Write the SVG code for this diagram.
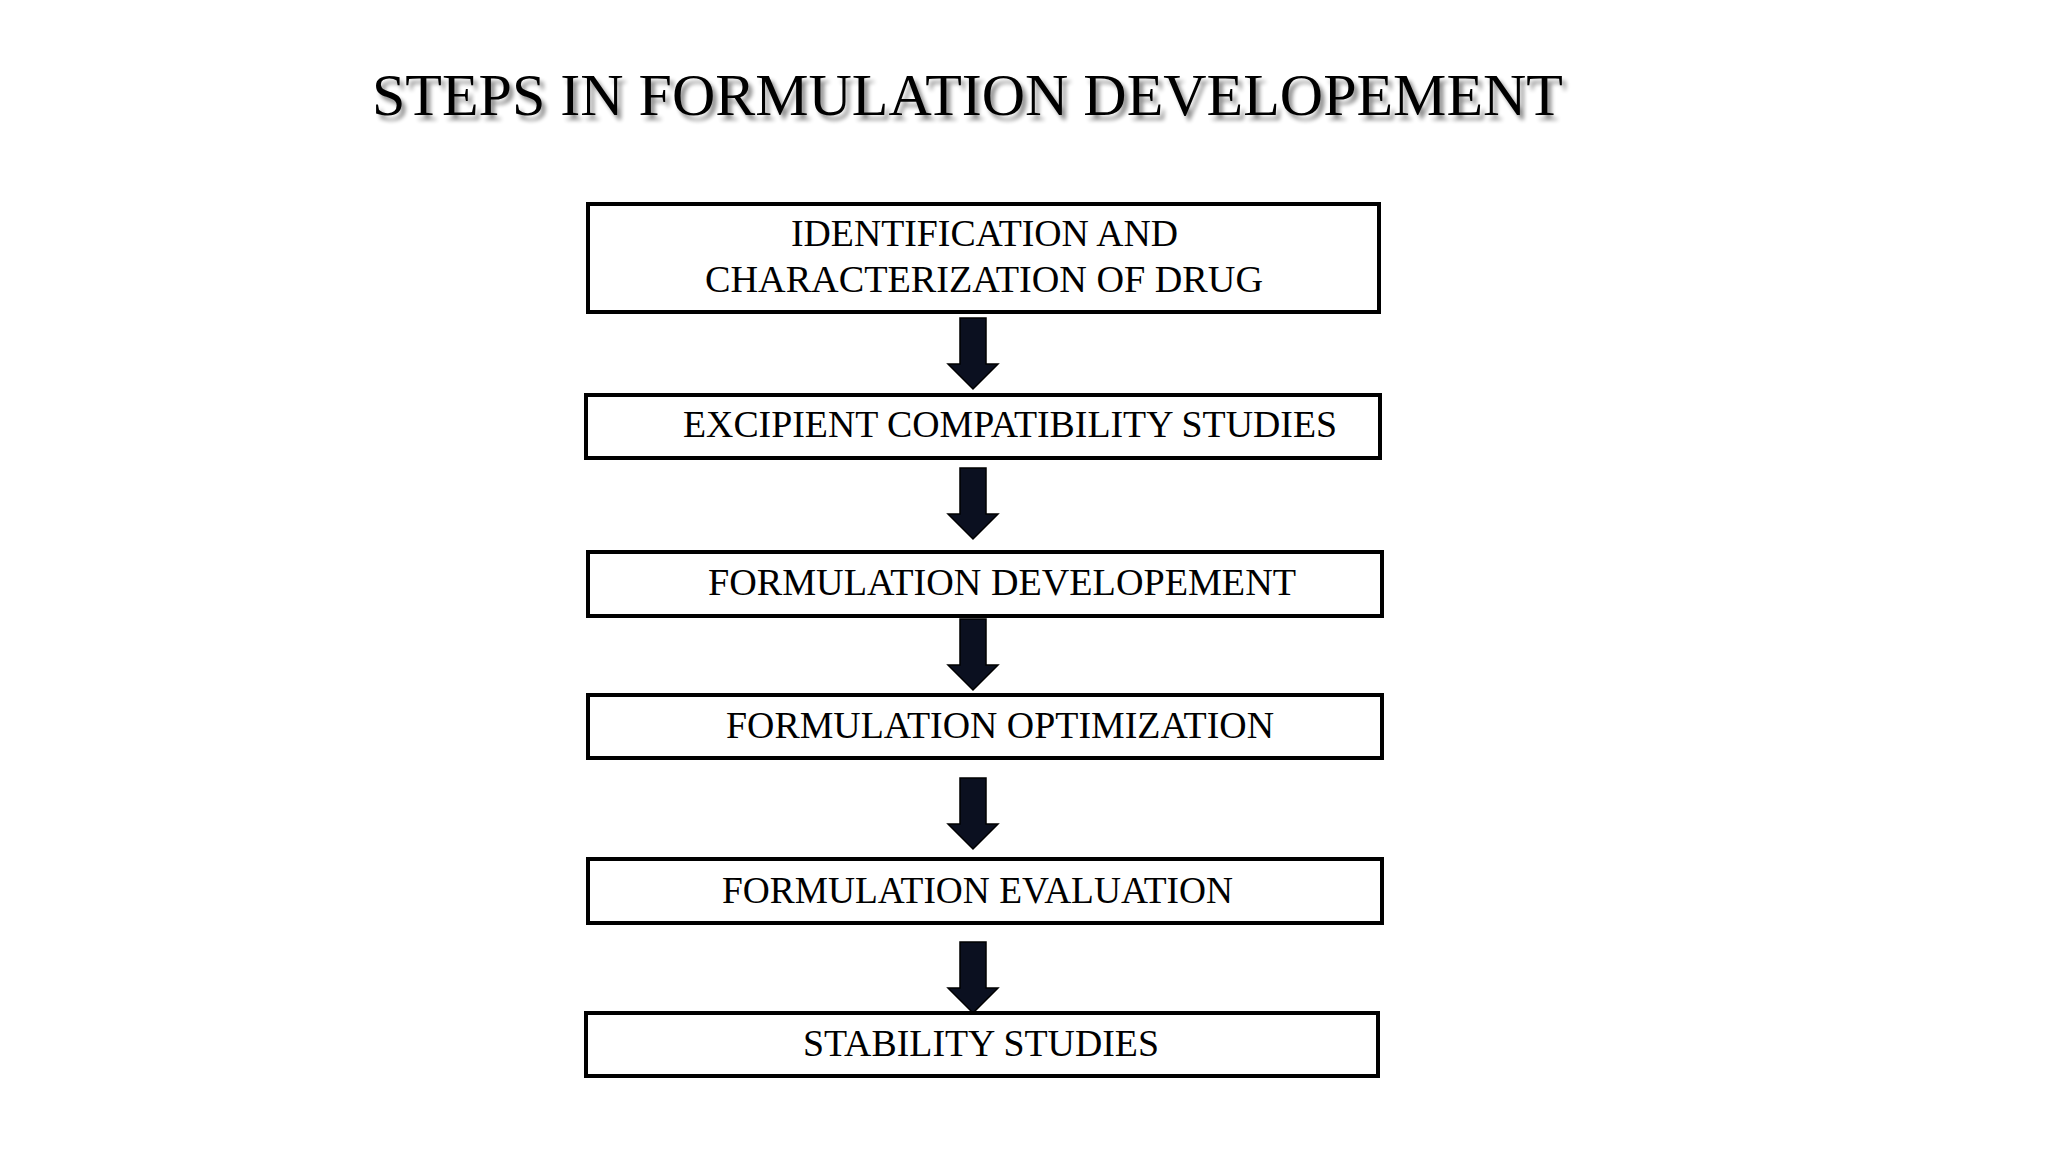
<svg xmlns="http://www.w3.org/2000/svg" width="2048" height="1152" viewBox="0 0 2048 1152">
<defs>
<style>
.box{fill:#fff;stroke:#000;stroke-width:4}
.lbl{font-family:"Liberation Serif","Times New Roman",serif;font-size:38px;fill:#000}
.ttl{font-family:"Liberation Serif","Times New Roman",serif;font-size:60px;fill:#000}
.arr{fill:#0b1020;stroke:#000;stroke-width:1.5;stroke-linejoin:miter}
</style>
<filter id="sh" x="-5%" y="-30%" width="110%" height="160%">
<feGaussianBlur in="SourceAlpha" stdDeviation="2"/>
<feOffset dx="4" dy="5" result="o"/>
<feComponentTransfer><feFuncA type="linear" slope="0.45"/></feComponentTransfer>
<feMerge><feMergeNode/><feMergeNode in="SourceGraphic"/></feMerge>
</filter>
<path id="ar" d="M-13,0 H13 V46 H25 L0,71 L-25,46 H-13 Z"/>
</defs>
<rect width="2048" height="1152" fill="#fff"/>
<text class="ttl" x="372" y="115" textLength="1191" lengthAdjust="spacingAndGlyphs" filter="url(#sh)">STEPS IN FORMULATION DEVELOPEMENT</text>
<g id="connectors">
<use href="#ar" class="arr" x="973" y="318"/>
<use href="#ar" class="arr" x="973" y="468"/>
<use href="#ar" class="arr" x="973" y="619"/>
<use href="#ar" class="arr" x="973" y="778"/>
<use href="#ar" class="arr" x="973" y="942"/>
</g>
<g id="n1"><rect class="box" x="588" y="204" width="791" height="108"/>
<text class="lbl" x="791" y="246" textLength="387" lengthAdjust="spacingAndGlyphs">IDENTIFICATION AND</text>
<text class="lbl" x="705" y="292" textLength="558" lengthAdjust="spacingAndGlyphs">CHARACTERIZATION OF DRUG</text></g>
<g id="n2"><rect class="box" x="586" y="395" width="794" height="63"/>
<text class="lbl" x="683" y="437" textLength="654" lengthAdjust="spacingAndGlyphs">EXCIPIENT COMPATIBILITY STUDIES</text></g>
<g id="n3"><rect class="box" x="588" y="552" width="794" height="64"/>
<text class="lbl" x="708" y="595" textLength="588" lengthAdjust="spacingAndGlyphs">FORMULATION DEVELOPEMENT</text></g>
<g id="n4"><rect class="box" x="588" y="695" width="794" height="63"/>
<text class="lbl" x="726" y="738" textLength="548" lengthAdjust="spacingAndGlyphs">FORMULATION OPTIMIZATION</text></g>
<g id="n5"><rect class="box" x="588" y="859" width="794" height="64"/>
<text class="lbl" x="722" y="903" textLength="511" lengthAdjust="spacingAndGlyphs">FORMULATION EVALUATION</text></g>
<g id="n6"><rect class="box" x="586" y="1013" width="792" height="63"/>
<text class="lbl" x="803" y="1056" textLength="356" lengthAdjust="spacingAndGlyphs">STABILITY STUDIES</text></g>
</svg>
